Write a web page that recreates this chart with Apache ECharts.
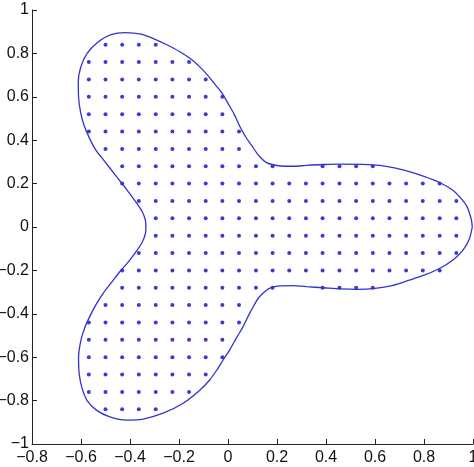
<!DOCTYPE html>
<html>
<head>
<meta charset="utf-8">
<script src="https://cdn.jsdelivr.net/npm/echarts@6/dist/echarts.min.js"></script>
<style>
html,body{margin:0;padding:0;background:#fff;}
#c{width:474px;height:467px;}
</style>
</head>
<body>
<div id="c"></div>
<script>
// Grid column x-positions
var xCols = [-0.568, -0.500, -0.432, -0.364, -0.295, -0.227, -0.159, -0.091, -0.023,
             0.045, 0.114, 0.182, 0.250, 0.318, 0.386, 0.455, 0.523, 0.591, 0.659,
             0.727, 0.795, 0.864, 0.932];
// Grid row y-positions
var rowY = [0.84, 0.76, 0.68, 0.60, 0.52, 0.44, 0.36, 0.28, 0.20, 0.12, 0.04,
            -0.04, -0.12, -0.20, -0.28, -0.36, -0.44, -0.52, -0.60, -0.68, -0.76, -0.84];
// For each row, the ranges of column indices that hold a point
var rowSpans = [
  [[1,4]], [[0,6]], [[0,7]], [[0,8]], [[0,8]], [[0,9]], [[1,9]],
  [[2,11],[14,17]], [[2,21]], [[3,22]], [[4,22]],
  [[4,22]], [[3,22]], [[2,21]], [[2,11],[14,17]],
  [[1,9]], [[0,9]], [[0,8]], [[0,8]], [[0,7]], [[0,6]], [[1,4]]
];
// Boundary curve, x and y lists
var curveX = [0.997,0.993,0.975,0.945,0.915,0.865,0.800,0.740,0.680,0.620,0.550,0.460,0.390,0.320,0.265,0.215,0.180,0.155,0.135,0.117,0.095,0.075,0.050,0.025,0.000,-0.025,-0.050,-0.080,-0.110,-0.150,-0.200,-0.250,-0.300,-0.355,-0.420,-0.480,-0.535,-0.575,-0.600,-0.611,-0.610,-0.602,-0.588,-0.567,-0.540,-0.505,-0.455,-0.415,-0.378,-0.350,-0.337,-0.335,
  -0.337,-0.350,-0.378,-0.410,-0.441,-0.475,-0.509,-0.540,-0.564,-0.585,-0.600,-0.610,-0.607,-0.595,-0.575,-0.536,-0.482,-0.414,-0.346,-0.265,-0.183,-0.115,-0.075,-0.045,-0.020,0.007,0.035,0.061,0.085,0.105,0.125,0.145,0.165,0.190,0.215,0.265,0.320,0.390,0.460,0.530,0.600,0.670,0.740,0.800,0.865,0.918,0.960,0.985,0.997];
var curveY = [0.000,0.035,0.095,0.140,0.172,0.204,0.233,0.255,0.272,0.284,0.289,0.290,0.288,0.284,0.280,0.281,0.288,0.298,0.318,0.342,0.378,0.410,0.460,0.520,0.570,0.618,0.653,0.695,0.732,0.773,0.810,0.840,0.866,0.889,0.896,0.885,0.848,0.800,0.740,0.670,0.600,0.530,0.470,0.413,0.355,0.305,0.232,0.175,0.118,0.070,0.030,0.000,
  -0.030,-0.070,-0.118,-0.165,-0.205,-0.255,-0.305,-0.360,-0.412,-0.465,-0.520,-0.600,-0.680,-0.745,-0.800,-0.845,-0.875,-0.890,-0.885,-0.858,-0.812,-0.752,-0.705,-0.658,-0.613,-0.566,-0.510,-0.460,-0.405,-0.363,-0.326,-0.303,-0.285,-0.275,-0.271,-0.270,-0.275,-0.280,-0.285,-0.287,-0.283,-0.270,-0.245,-0.222,-0.190,-0.152,-0.105,-0.055,0.000];

var pts = [];
for (var r = 0; r < rowY.length; r++) {
  rowSpans[r].forEach(function (sp) {
    for (var k = sp[0]; k <= sp[1]; k++) pts.push([xCols[k], rowY[r]]);
  });
}
var curve = curveX.map(function (x, i) { return [x, curveY[i]]; });

function fmt(v) {
  var s = String(+Number(v).toFixed(1));
  return s.replace('-', '\u2212');
}
var FAM = '"Liberation Sans", Arial, sans-serif';
var axisCommon = {
  type: 'value',
  interval: 0.2,
  axisLine: { show: true, onZero: false, lineStyle: { color: '#222', width: 1 } },
  axisTick: { show: true, inside: true, length: 5, lineStyle: { color: '#222', width: 1 } },
  splitLine: { show: false },
  axisLabel: { color: '#111', fontFamily: FAM, fontSize: 16, formatter: fmt }
};

var chart = echarts.init(document.getElementById('c'), null, { renderer: 'canvas' });
chart.setOption({
  animation: false,
  backgroundColor: '#fff',
  grid: { left: 32, right: 1, top: 10, bottom: 23, containLabel: false, outerBoundsMode: 'none' },
  xAxis: Object.assign({}, axisCommon, {
    min: -0.8, max: 1,
    axisLabel: Object.assign({}, axisCommon.axisLabel, { margin: 6, showMaxLabel: true })
  }),
  yAxis: Object.assign({}, axisCommon, {
    min: -1, max: 1,
    axisLabel: Object.assign({}, axisCommon.axisLabel, { margin: 3 })
  }),
  series: [
    {
      type: 'line',
      data: curve,
      smooth: 0.3,
      symbol: 'none',
      lineStyle: { color: '#3232d2', width: 1.3 },
      clip: false
    },
    {
      type: 'scatter',
      data: pts,
      symbol: 'circle',
      symbolSize: 4,
      itemStyle: { color: '#0a0ac8' }
    }
  ]
});
</script>
</body>
</html>
